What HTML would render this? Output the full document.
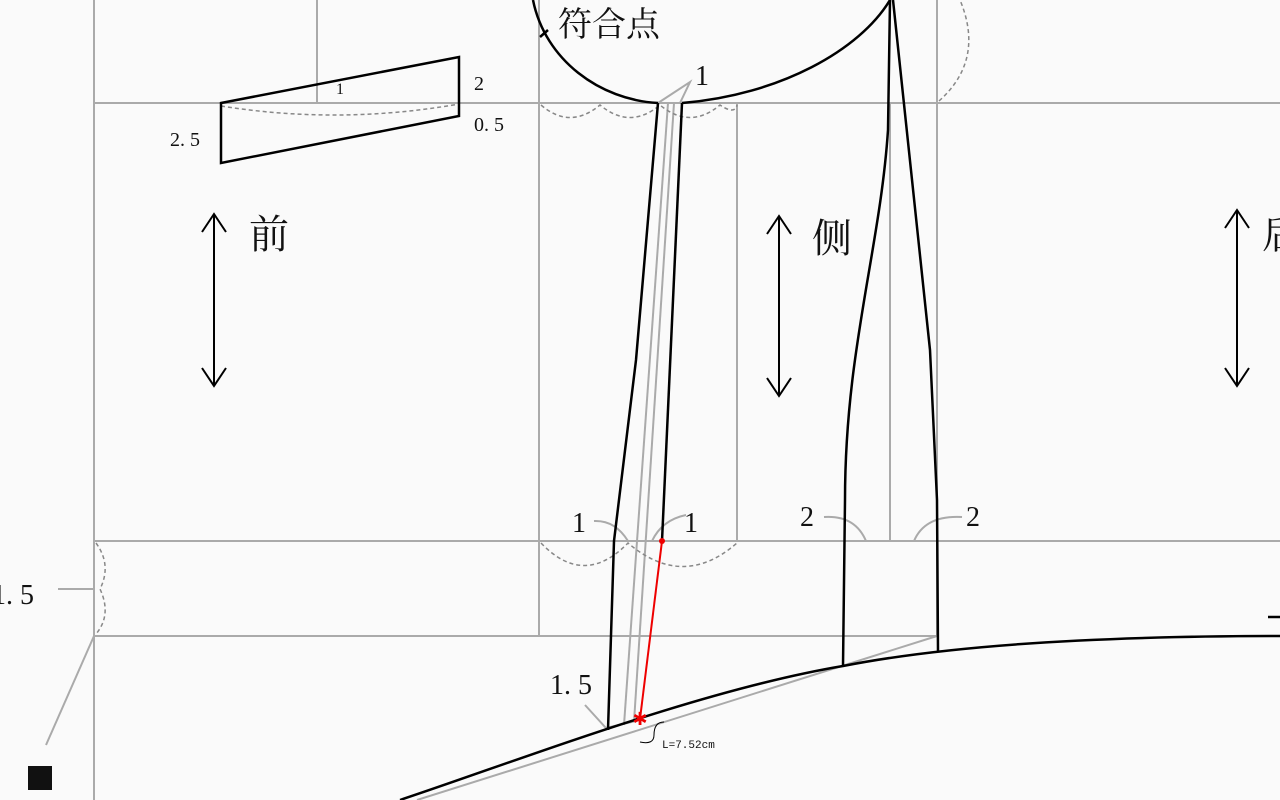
<!DOCTYPE html>
<html><head><meta charset="utf-8"><style>
html,body{margin:0;padding:0;background:#fafafa;}
svg{display:block;}
text{font-family:"Liberation Serif","Noto Serif CJK SC",serif;fill:#111;}
</style></head><body>
<svg width="1280" height="800" viewBox="0 0 1280 800" xmlns="http://www.w3.org/2000/svg">
<rect width="1280" height="800" fill="#fafafa"/>
<g stroke="#aaa" stroke-width="2" fill="none">
<line x1="94" y1="0" x2="94" y2="800"/>
<line x1="317" y1="0" x2="317" y2="103"/>
<line x1="539" y1="0" x2="539" y2="636"/>
<line x1="737" y1="103" x2="737" y2="541"/>
<line x1="890" y1="103" x2="890" y2="541"/>
<line x1="937" y1="0" x2="937" y2="636"/>
<line x1="94" y1="103" x2="1280" y2="103"/>
<line x1="94" y1="541" x2="1280" y2="541"/>
<line x1="94" y1="636" x2="937" y2="636"/>
<line x1="94" y1="636" x2="46" y2="745"/>
<line x1="937" y1="636" x2="417" y2="800"/>
<polyline points="658,103 690,82 680,103"/>
<line x1="668" y1="103" x2="624" y2="725"/>
<line x1="674" y1="103" x2="634" y2="722"/>
<polyline points="585,705 606,728 640,720"/>
<path d="M594,521 Q615,520 628,541"/>
<path d="M686,515 Q662,520 652,541"/>
<path d="M824,517 Q855,515 866,541"/>
<path d="M962,517 Q925,515 914,541"/>
<line x1="58" y1="589" x2="94" y2="589"/>
</g>
<g stroke="#888" stroke-width="1.5" fill="none" stroke-dasharray="4,3">
<path d="M221,106 Q340,125 459,104"/>
<path d="M541,105 Q570,130 600,105 Q630,130 660,105 Q690,130 720,105 Q735,115 737,105"/>
<path d="M541,543 Q584,588 628,543 Q683,590 737,543"/>
<path d="M96,543 Q112,565 100,589 Q112,615 96,634"/>
<path d="M939,101 Q985,60 960,0"/>
</g>
<g stroke="#000" stroke-width="2.5" fill="none">
<path d="M533,0 C545,60 600,100 658,103"/>
<path d="M682,103 C780,95 860,50 890,0"/>
<line x1="540" y1="37" x2="548" y2="30"/>
<polyline points="658,103 636,360 614,541 608,730"/>
<line x1="682" y1="103" x2="662" y2="541"/>
<path d="M890,0 L888,130 C880,250 845,350 845,500 L843,666"/>
<path d="M893,0 L930,350 L937,500 L938,652"/>
<path d="M400,800 C520,760 700,690 843,666 C950,645 1100,636 1280,636"/>
<polygon points="221,103 459,57 459,116 221,163"/>
<line x1="1268" y1="617" x2="1280" y2="617"/>
</g>
<g stroke="#000" stroke-width="2" fill="none">
<line x1="214" y1="214" x2="214" y2="386"/><polyline points="202,232 214,214 226,232"/><polyline points="202,368 214,386 226,368"/>
<line x1="779" y1="216" x2="779" y2="396"/><polyline points="767,234 779,216 791,234"/><polyline points="767,378 779,396 791,378"/>
<line x1="1237" y1="210" x2="1237" y2="386"/><polyline points="1225,228 1237,210 1249,228"/><polyline points="1225,368 1237,386 1249,368"/>
<path d="M640,742 Q654,745 654,735 Q654,722 664,722" stroke-width="1"/>
</g>
<line x1="662" y1="541" x2="640" y2="719" stroke="#e00" stroke-width="2"/>
<circle cx="662" cy="541" r="3" fill="#e00"/>
<text x="640" y="725" font-size="18" text-anchor="middle" style="fill:#e00">✱</text>
<rect x="28" y="766" width="24" height="24" fill="#111"/>
<text x="558" y="36" font-size="34">符合点</text>
<text x="249" y="248" font-size="40">前</text>
<text x="812" y="252" font-size="40">侧</text>
<text x="1262" y="248" font-size="40">后</text>
<text x="695" y="85" font-size="28">1</text>
<text x="474" y="90" font-size="20">2</text>
<text x="336" y="94" font-size="16">1</text>
<text x="170" y="146" font-size="20">2. 5</text>
<text x="474" y="131" font-size="20">0. 5</text>
<text x="572" y="532" font-size="28">1</text>
<text x="684" y="532" font-size="28">1</text>
<text x="800" y="526" font-size="28">2</text>
<text x="966" y="526" font-size="28">2</text>
<text x="550" y="694" font-size="28">1. 5</text>
<text x="-8" y="604" font-size="28">1. 5</text>
<text x="662" y="748" font-size="11" style="font-family:'Liberation Mono',monospace">L=7.52cm</text>
</svg>
</body></html>
